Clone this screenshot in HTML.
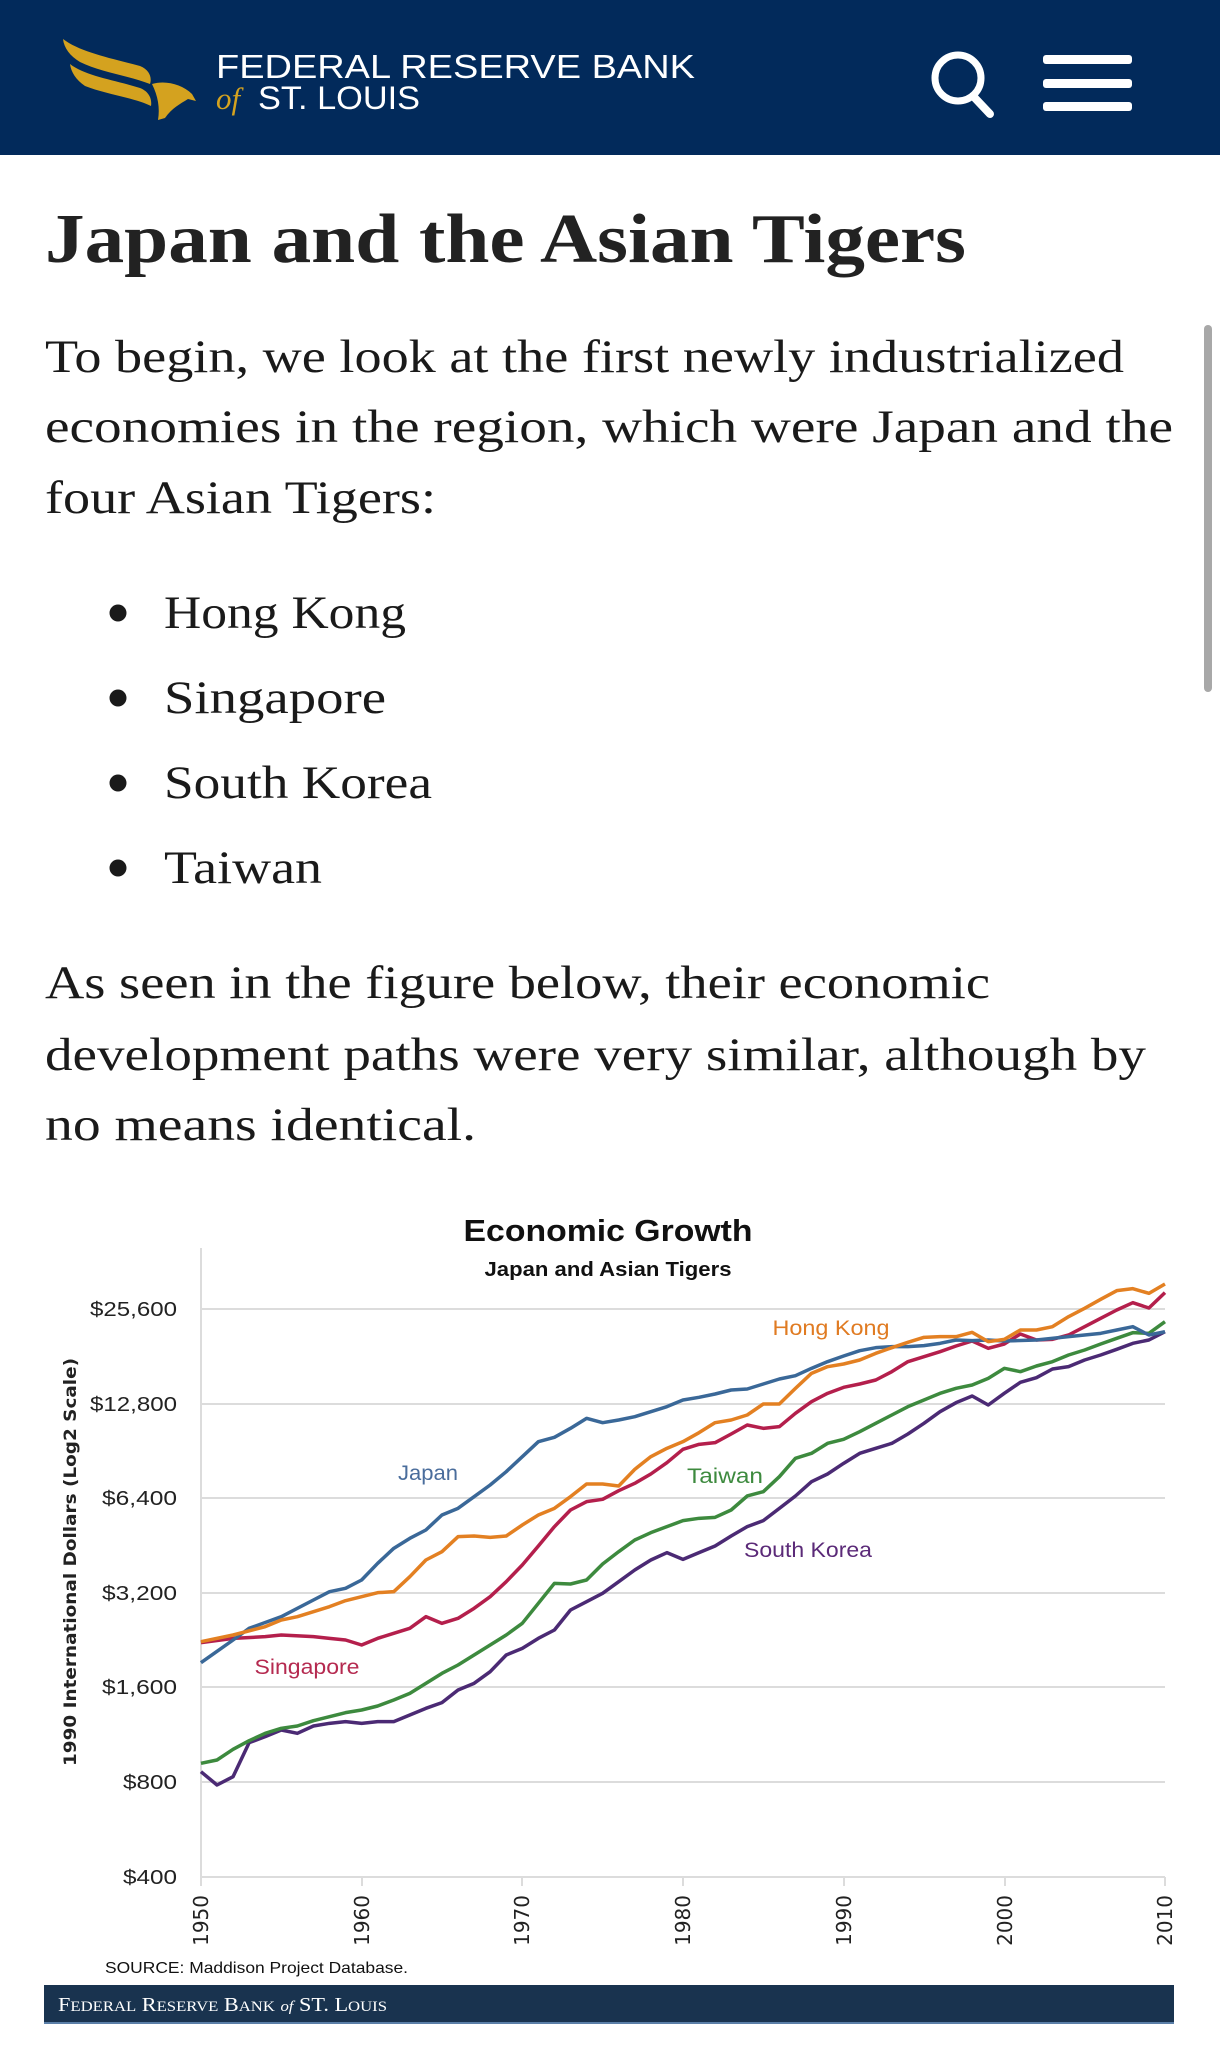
<!DOCTYPE html>
<html><head><meta charset="utf-8"><style>
html,body{margin:0;padding:0;background:#fff;}
svg{display:block}
</style></head><body>
<svg width="1220" height="2048" viewBox="0 0 1220 2048" xmlns="http://www.w3.org/2000/svg">
<rect x="0" y="0" width="1220" height="155" fill="#022a5b"/>
<!-- logo -->
<g fill="#d4a21f">
<path d="M63,39 C80,52 110,58 140,66 C150,70 152,78 150,84 C130,76 100,72 80,62 C70,56 64,48 63,39Z"/>
<path d="M70,64 C85,76 115,80 140,88 C150,92 152,100 151,106 C135,98 105,94 85,86 C76,80 71,72 70,64Z"/>
<path d="M152,84 C165,80 182,84 192,94 L196,101 L188,99 C180,104 172,108 165,118 L158,120 C160,108 158,96 152,84Z"/>
</g>
<g font-family="Liberation Sans, sans-serif" fill="#fff">
<text x="216" y="78" font-size="33" textLength="479" lengthAdjust="spacingAndGlyphs">FEDERAL RESERVE BANK</text>
<text x="216" y="109" font-size="31" font-style="italic" fill="#d4a21f" font-family="Liberation Serif, serif">of</text>
<text x="258" y="109" font-size="32" textLength="162" lengthAdjust="spacingAndGlyphs">ST. LOUIS</text>
</g>
<circle cx="958" cy="78" r="23" fill="none" stroke="#fff" stroke-width="7"/>
<line x1="973" y1="96" x2="990" y2="114" stroke="#fff" stroke-width="8" stroke-linecap="round"/>
<rect x="1043" y="55" width="89" height="9" rx="3" fill="#fff"/>
<rect x="1043" y="79" width="89" height="9" rx="3" fill="#fff"/>
<rect x="1043" y="102" width="89" height="9" rx="3" fill="#fff"/>
<!-- scrollbar -->
<rect x="1204" y="325" width="8" height="367" rx="4" fill="#a8a8a8"/>
<!-- article -->
<g font-family="Liberation Serif, serif" fill="#1a1a1a">
<text x="45" y="262" font-size="70" font-weight="bold" fill="#222" textLength="921" lengthAdjust="spacingAndGlyphs">Japan and the Asian Tigers</text>
<g font-size="47">
<text x="45" y="372" textLength="1079" lengthAdjust="spacingAndGlyphs">To begin, we look at the first newly industrialized</text>
<text x="45" y="442" textLength="1128" lengthAdjust="spacingAndGlyphs">economies in the region, which were Japan and the</text>
<text x="45" y="513" textLength="391" lengthAdjust="spacingAndGlyphs">four Asian Tigers:</text>
<text x="164" y="628" textLength="242" lengthAdjust="spacingAndGlyphs">Hong Kong</text>
<text x="164" y="713" textLength="222" lengthAdjust="spacingAndGlyphs">Singapore</text>
<text x="164" y="798" textLength="268" lengthAdjust="spacingAndGlyphs">South Korea</text>
<text x="164" y="883" textLength="158" lengthAdjust="spacingAndGlyphs">Taiwan</text>
<text x="45" y="998" textLength="945" lengthAdjust="spacingAndGlyphs">As seen in the figure below, their economic</text>
<text x="45" y="1070" textLength="1101" lengthAdjust="spacingAndGlyphs">development paths were very similar, although by</text>
<text x="45" y="1140" textLength="431" lengthAdjust="spacingAndGlyphs">no means identical.</text>
</g>
<circle cx="118" cy="613" r="8.5"/><circle cx="118" cy="698" r="8.5"/><circle cx="118" cy="783" r="8.5"/><circle cx="118" cy="868" r="8.5"/>
</g>
<!-- chart -->
<g font-family="Liberation Sans, sans-serif" text-anchor="middle" fill="#111">
<text x="608" y="1241" font-size="31" font-weight="bold" textLength="289" lengthAdjust="spacingAndGlyphs">Economic Growth</text>
<text x="608" y="1276" font-size="20" font-weight="bold" textLength="247" lengthAdjust="spacingAndGlyphs">Japan and Asian Tigers</text>
</g>
<g stroke="#dcdcdc" stroke-width="2">
<line x1="201" y1="1309" x2="1165" y2="1309"/>
<line x1="201" y1="1404" x2="1165" y2="1404"/>
<line x1="201" y1="1498" x2="1165" y2="1498"/>
<line x1="201" y1="1593" x2="1165" y2="1593"/>
<line x1="201" y1="1687" x2="1165" y2="1687"/>
<line x1="201" y1="1782" x2="1165" y2="1782"/>
<line x1="201" y1="1877" x2="1165" y2="1877"/>
<line x1="201" y1="1248" x2="201" y2="1877"/>
<line x1="201" y1="1877" x2="201" y2="1886"/><line x1="362" y1="1877" x2="362" y2="1886"/><line x1="522" y1="1877" x2="522" y2="1886"/><line x1="683" y1="1877" x2="683" y2="1886"/><line x1="844" y1="1877" x2="844" y2="1886"/><line x1="1005" y1="1877" x2="1005" y2="1886"/><line x1="1165" y1="1877" x2="1165" y2="1886"/>
</g>
<g font-family="Liberation Sans, sans-serif" font-size="20" fill="#222" text-anchor="end">
<text x="177" y="1316" textLength="87" lengthAdjust="spacingAndGlyphs">$25,600</text>
<text x="177" y="1411" textLength="87" lengthAdjust="spacingAndGlyphs">$12,800</text>
<text x="177" y="1505" textLength="75" lengthAdjust="spacingAndGlyphs">$6,400</text>
<text x="177" y="1600" textLength="75" lengthAdjust="spacingAndGlyphs">$3,200</text>
<text x="177" y="1694" textLength="75" lengthAdjust="spacingAndGlyphs">$1,600</text>
<text x="177" y="1789" textLength="54" lengthAdjust="spacingAndGlyphs">$800</text>
<text x="177" y="1884" textLength="54" lengthAdjust="spacingAndGlyphs">$400</text>
</g>
<g font-family="DejaVu Sans, sans-serif" font-size="20" fill="#222" text-anchor="end">
<text transform="translate(208,1895) rotate(-90)">1950</text>
<text transform="translate(369,1895) rotate(-90)">1960</text>
<text transform="translate(529,1895) rotate(-90)">1970</text>
<text transform="translate(690,1895) rotate(-90)">1980</text>
<text transform="translate(851,1895) rotate(-90)">1990</text>
<text transform="translate(1012,1895) rotate(-90)">2000</text>
<text transform="translate(1172,1895) rotate(-90)">2010</text>
<text transform="translate(76,1766) rotate(-90)" text-anchor="start" font-size="17" font-weight="bold" textLength="408" lengthAdjust="spacingAndGlyphs">1990 International Dollars (Log2 Scale)</text>
</g>
<g fill="none" stroke-width="3.5" stroke-linejoin="round" transform="matrix(16.067 0 0 0.33333 -31129.7 1180)">
<polyline vector-effect="non-scaling-stroke" stroke="#4b2a74" points="1950,1775 1951,1815 1952,1790 1953,1688 1954,1670 1955,1650 1956,1660 1957,1638 1958,1630 1959,1625 1960,1630 1961,1625 1962,1625 1963,1605 1964,1585 1965,1568 1966,1530 1967,1510 1968,1475 1969,1425 1970,1405 1971,1375 1972,1350 1973,1290 1974,1265 1975,1240 1976,1205 1977,1170 1978,1140 1979,1118 1980,1138 1981,1118 1982,1098 1983,1068 1984,1040 1985,1022 1986,985 1987,948 1988,905 1989,882 1990,850 1991,820 1992,805 1993,790 1994,762 1995,730 1996,695 1997,668 1998,648 1999,675 2000,640 2001,607 2002,593 2003,567 2004,560 2005,540 2006,525 2007,508 2008,490 2009,480 2010,455"/>
<polyline vector-effect="non-scaling-stroke" stroke="#3d8a3e" points="1950,1750 1951,1740 1952,1708 1953,1682 1954,1660 1955,1645 1956,1638 1957,1622 1958,1610 1959,1598 1960,1590 1961,1578 1962,1560 1963,1540 1964,1510 1965,1480 1966,1455 1967,1425 1968,1395 1969,1365 1970,1330 1971,1270 1972,1210 1973,1212 1974,1200 1975,1152 1976,1115 1977,1080 1978,1058 1979,1040 1980,1022 1981,1015 1982,1012 1983,990 1984,948 1985,935 1986,890 1987,835 1988,820 1989,790 1990,778 1991,755 1992,730 1993,705 1994,680 1995,660 1996,640 1997,625 1998,615 1999,595 2000,565 2001,575 2002,558 2003,545 2004,525 2005,510 2006,492 2007,475 2008,458 2009,460 2010,425"/>
<polyline vector-effect="non-scaling-stroke" stroke="#b41f4c" points="1950,1388 1952,1375 1954,1370 1955,1365 1957,1370 1958,1375 1959,1380 1960,1395 1961,1375 1962,1360 1963,1345 1964,1310 1965,1330 1966,1315 1967,1285 1968,1250 1969,1205 1970,1155 1971,1098 1972,1040 1973,990 1974,965 1975,958 1976,932 1977,910 1978,882 1979,848 1980,808 1981,793 1982,788 1983,762 1984,735 1985,745 1986,740 1987,700 1988,665 1989,640 1990,622 1991,612 1992,600 1993,575 1994,545 1995,530 1996,515 1997,498 1998,483 1999,505 2000,492 2001,462 2002,480 2003,478 2004,465 2005,440 2006,415 2007,390 2008,368 2009,384 2010,338"/>
<polyline vector-effect="non-scaling-stroke" stroke="#3a6898" points="1950,1448 1952,1380 1953,1345 1955,1310 1957,1260 1958,1235 1959,1225 1960,1200 1961,1150 1962,1105 1963,1075 1964,1050 1965,1005 1966,985 1967,950 1968,915 1969,875 1970,830 1971,785 1972,772 1973,745 1974,715 1975,728 1976,720 1977,710 1978,695 1979,680 1980,660 1981,652 1982,642 1983,630 1984,627 1985,612 1986,597 1987,587 1988,565 1989,545 1990,528 1991,512 1992,503 1993,500 1994,500 1995,497 1996,490 1997,480 1998,482 1999,480 2000,483 2002,480 2004,470 2006,460 2007,450 2008,440 2009,465 2010,455"/>
<polyline vector-effect="non-scaling-stroke" stroke="#e38022" points="1950,1385 1952,1365 1954,1340 1955,1320 1956,1310 1957,1295 1958,1280 1959,1262 1960,1250 1961,1238 1962,1235 1963,1190 1964,1140 1965,1115 1966,1070 1967,1068 1968,1072 1969,1068 1970,1035 1971,1005 1972,985 1973,950 1974,912 1975,912 1976,918 1977,868 1978,830 1979,805 1980,785 1981,758 1982,728 1983,720 1984,705 1985,672 1986,672 1987,625 1988,580 1989,560 1990,552 1991,540 1992,520 1993,503 1994,487 1995,472 1996,470 1997,470 1998,457 1999,485 2000,478 2001,450 2002,450 2003,440 2004,410 2005,385 2006,358 2007,332 2008,326 2009,340 2010,312"/>
</g>
<g font-family="Liberation Sans, sans-serif" font-size="21" text-anchor="middle">
<text x="428" y="1480" fill="#4a6d9c" textLength="60" lengthAdjust="spacingAndGlyphs">Japan</text>
<text x="831" y="1335" fill="#e07b22" textLength="117" lengthAdjust="spacingAndGlyphs">Hong Kong</text>
<text x="725" y="1483" fill="#3d8a3e" textLength="76" lengthAdjust="spacingAndGlyphs">Taiwan</text>
<text x="808" y="1557" fill="#5b2a78" textLength="128" lengthAdjust="spacingAndGlyphs">South Korea</text>
<text x="307" y="1674" fill="#b52a50" textLength="105" lengthAdjust="spacingAndGlyphs">Singapore</text>
</g>
<text x="105" y="1973" font-family="Liberation Sans, sans-serif" font-size="16" fill="#111" textLength="303" lengthAdjust="spacingAndGlyphs">SOURCE: Maddison Project Database.</text>
<rect x="44" y="1985" width="1130" height="38" fill="#19334f"/>
<rect x="44" y="2022" width="1130" height="2" fill="#5b7fa8"/>
<text x="58" y="2011" font-family="Liberation Serif, serif" font-size="20" fill="#fff" textLength="329" lengthAdjust="spacingAndGlyphs">F<tspan font-size="15">EDERAL</tspan> R<tspan font-size="15">ESERVE</tspan> B<tspan font-size="15">ANK</tspan> <tspan font-style="italic" font-size="15">of</tspan> ST. L<tspan font-size="15">OUIS</tspan></text>
</svg>
</body></html>
